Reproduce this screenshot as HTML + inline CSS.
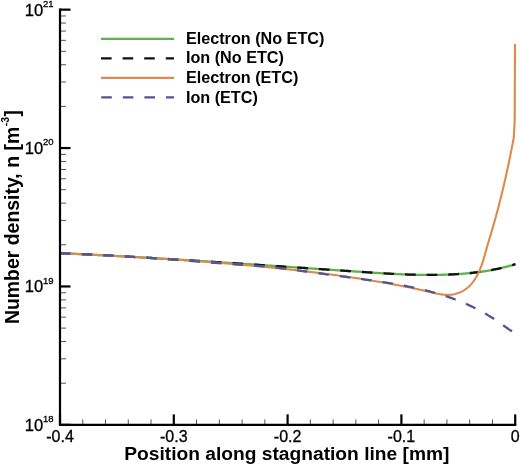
<!DOCTYPE html>
<html><head><meta charset="utf-8"><style>
html,body{margin:0;padding:0;background:#fff;}
body{width:520px;height:464px;overflow:hidden;}
svg{display:block;filter:blur(0.45px);}
text{font-family:"Liberation Sans",Arial,Helvetica,sans-serif;fill:#000;}
.mj{stroke:#000;stroke-width:2.2;}
.mn{stroke:#555;stroke-width:1;}
.b{font-weight:bold;}
</style></head><body>
<svg width="520" height="464" viewBox="0 0 520 464">
<rect width="520" height="464" fill="#fff"/>
<g fill="none" stroke-width="2.3" stroke-linejoin="round">
<path d="M60.11,253.15 L61.60,253.21 L63.10,253.28 L64.59,253.35 L66.09,253.42 L67.58,253.49 L69.08,253.57 L70.57,253.64 L72.07,253.71 L73.56,253.78 L75.06,253.85 L76.55,253.93 L78.05,254.00 L79.54,254.07 L81.04,254.15 L82.53,254.22 L84.03,254.30 L85.53,254.37 L87.02,254.45 L88.52,254.52 L90.01,254.60 L91.51,254.68 L93.01,254.75 L94.50,254.83 L96.00,254.91 L97.50,254.99 L98.99,255.07 L100.49,255.14 L101.99,255.22 L103.48,255.30 L104.98,255.38 L106.48,255.46 L107.98,255.54 L109.47,255.62 L110.97,255.70 L112.47,255.79 L113.97,255.87 L115.46,255.95 L116.96,256.03 L118.46,256.12 L119.96,256.20 L121.46,256.28 L122.95,256.37 L124.45,256.45 L125.95,256.53 L127.45,256.62 L128.95,256.70 L130.45,256.79 L131.94,256.87 L133.44,256.96 L134.94,257.04 L136.44,257.13 L137.94,257.22 L139.44,257.30 L140.94,257.39 L142.44,257.48 L143.93,257.57 L145.43,257.65 L146.93,257.74 L148.43,257.83 L149.93,257.92 L151.43,258.01 L152.93,258.10 L154.43,258.19 L155.93,258.28 L157.43,258.37 L158.93,258.46 L160.43,258.55 L161.93,258.64 L163.43,258.73 L164.93,258.82 L166.43,258.91 L167.93,259.01 L169.43,259.10 L170.93,259.19 L172.43,259.28 L173.93,259.37 L175.43,259.47 L176.93,259.56 L178.43,259.65 L179.93,259.75 L181.43,259.84 L182.93,259.94 L184.43,260.03 L185.93,260.12 L187.43,260.22 L188.93,260.31 L190.43,260.41 L191.93,260.50 L193.44,260.60 L194.94,260.69 L196.44,260.79 L197.94,260.89 L199.44,260.98 L200.94,261.08 L202.44,261.17 L203.94,261.27 L205.44,261.37 L206.94,261.47 L208.44,261.56 L209.95,261.66 L211.45,261.76 L212.95,261.86 L214.45,261.95 L215.95,262.05 L217.45,262.15 L218.95,262.25 L220.45,262.35 L221.95,262.44 L223.46,262.54 L224.96,262.64 L226.46,262.74 L227.96,262.84 L229.46,262.94 L230.96,263.04 L232.46,263.14 L233.96,263.24 L235.47,263.34 L236.97,263.44 L238.47,263.54 L239.97,263.64 L241.47,263.74 L242.97,263.84 L244.47,263.94 L245.98,264.04 L247.48,264.14 L248.98,264.24 L250.48,264.34 L251.98,264.44 L253.48,264.54 L254.98,264.64 L256.48,264.75 L257.99,264.85 L259.49,264.95 L260.99,265.05 L262.49,265.15 L263.99,265.25 L265.49,265.36 L266.99,265.46 L268.50,265.56 L270.00,265.66 L271.50,265.76 L273.00,265.87 L274.50,265.97 L276.00,266.07 L277.50,266.17 L279.00,266.27 L280.51,266.38 L282.01,266.48 L283.51,266.58 L285.01,266.68 L286.51,266.79 L288.01,266.89 L289.51,266.99 L291.01,267.09 L292.52,267.20 L294.02,267.30 L295.52,267.40 L297.02,267.51 L298.52,267.61 L300.02,267.71 L301.52,267.81 L303.02,267.92 L304.52,268.02 L306.02,268.12 L307.52,268.23 L309.03,268.33 L310.53,268.43 L312.03,268.53 L313.53,268.64 L315.03,268.74 L316.53,268.84 L318.03,268.95 L319.53,269.05 L321.03,269.15 L322.53,269.25 L324.03,269.36 L325.53,269.46 L327.03,269.56 L328.53,269.67 L330.03,269.77 L331.53,269.87 L333.03,269.97 L334.53,270.08 L336.03,270.18 L337.53,270.28 L339.03,270.38 L340.53,270.49 L342.03,270.59 L343.53,270.69 L345.03,270.79 L346.53,270.90 L348.03,271.00 L349.53,271.10 L351.03,271.20 L352.53,271.30 L354.03,271.41 L355.53,271.51 L357.03,271.61 L358.53,271.71 L360.03,271.81 L361.53,271.91 L363.02,272.01 L364.52,272.12 L366.02,272.22 L367.52,272.32 L369.02,272.42 L370.52,272.52 L372.02,272.61 L373.52,272.71 L375.01,272.81 L376.51,272.90 L378.01,273.00 L379.51,273.09 L381.01,273.19 L382.51,273.28 L384.00,273.37 L385.50,273.45 L387.00,273.54 L388.50,273.62 L390.00,273.71 L391.49,273.79 L392.99,273.87 L394.49,273.94 L395.99,274.02 L397.48,274.09 L398.98,274.16 L400.48,274.23 L401.97,274.30 L403.47,274.36 L404.97,274.42 L406.46,274.47 L407.96,274.53 L409.46,274.58 L410.95,274.63 L412.45,274.67 L413.95,274.72 L415.44,274.75 L416.94,274.79 L418.44,274.82 L419.93,274.85 L421.43,274.87 L422.92,274.89 L424.42,274.91 L425.91,274.92 L427.41,274.93 L428.91,274.94 L430.40,274.94 L431.90,274.93 L433.39,274.92 L434.89,274.91 L436.38,274.89 L437.88,274.87 L439.37,274.84 L440.86,274.81 L442.36,274.77 L443.85,274.73 L445.35,274.68 L446.84,274.63 L448.34,274.57 L449.83,274.51 L451.32,274.44 L452.82,274.37 L454.31,274.29 L455.80,274.20 L457.30,274.11 L458.79,274.01 L460.28,273.91 L461.78,273.80 L463.27,273.68 L464.76,273.56 L466.25,273.43 L467.75,273.30 L469.24,273.15 L470.73,273.00 L472.22,272.84 L473.71,272.68 L475.21,272.50 L476.70,272.32 L478.19,272.13 L479.68,271.93 L481.17,271.73 L482.66,271.51 L484.15,271.29 L485.64,271.05 L487.14,270.81 L488.63,270.56 L490.12,270.30 L491.61,270.03 L493.10,269.74 L494.59,269.45 L496.08,269.15 L497.57,268.84 L499.06,268.51 L500.55,268.18 L502.03,267.83 L503.52,267.48 L505.01,267.11 L506.50,266.73 L507.99,266.34 L509.48,265.93 L510.97,265.52 L512.46,265.09 L513.94,264.65 L515.43,264.19" stroke="#5fb04f"/>
<path d="M60.11,253.15 L61.60,253.21 L63.10,253.28 L64.59,253.35 L66.09,253.42 L67.58,253.49 L69.08,253.57 L70.57,253.64 L72.07,253.71 L73.56,253.78 L75.06,253.85 L76.55,253.93 L78.05,254.00 L79.54,254.07 L81.04,254.15 L82.53,254.22 L84.03,254.30 L85.53,254.37 L87.02,254.45 L88.52,254.52 L90.01,254.60 L91.51,254.68 L93.01,254.75 L94.50,254.83 L96.00,254.91 L97.50,254.99 L98.99,255.07 L100.49,255.14 L101.99,255.22 L103.48,255.30 L104.98,255.38 L106.48,255.46 L107.98,255.54 L109.47,255.62 L110.97,255.70 L112.47,255.79 L113.97,255.87 L115.46,255.95 L116.96,256.03 L118.46,256.12 L119.96,256.20 L121.46,256.28 L122.95,256.37 L124.45,256.45 L125.95,256.53 L127.45,256.62 L128.95,256.70 L130.45,256.79 L131.94,256.87 L133.44,256.96 L134.94,257.04 L136.44,257.13 L137.94,257.22 L139.44,257.30 L140.94,257.39 L142.44,257.48 L143.93,257.57 L145.43,257.65 L146.93,257.74 L148.43,257.83 L149.93,257.92 L151.43,258.01 L152.93,258.10 L154.43,258.19 L155.93,258.28 L157.43,258.37 L158.93,258.46 L160.43,258.55 L161.93,258.64 L163.43,258.73 L164.93,258.82 L166.43,258.91 L167.93,259.01 L169.43,259.10 L170.93,259.19 L172.43,259.28 L173.93,259.37 L175.43,259.47 L176.93,259.56 L178.43,259.65 L179.93,259.75 L181.43,259.84 L182.93,259.94 L184.43,260.03 L185.93,260.12 L187.43,260.22 L188.93,260.31 L190.43,260.41 L191.93,260.50 L193.44,260.60 L194.94,260.69 L196.44,260.79 L197.94,260.89 L199.44,260.98 L200.94,261.08 L202.44,261.17 L203.94,261.27 L205.44,261.37 L206.94,261.47 L208.44,261.56 L209.95,261.66 L211.45,261.76 L212.95,261.86 L214.45,261.95 L215.95,262.05 L217.45,262.15 L218.95,262.25 L220.45,262.35 L221.95,262.44 L223.46,262.54 L224.96,262.64 L226.46,262.74 L227.96,262.84 L229.46,262.94 L230.96,263.04 L232.46,263.14 L233.96,263.24 L235.47,263.34 L236.97,263.44 L238.47,263.54 L239.97,263.64 L241.47,263.74 L242.97,263.84 L244.47,263.94 L245.98,264.04 L247.48,264.14 L248.98,264.24 L250.48,264.34 L251.98,264.44 L253.48,264.54 L254.98,264.64 L256.48,264.75 L257.99,264.85 L259.49,264.95 L260.99,265.05 L262.49,265.15 L263.99,265.25 L265.49,265.36 L266.99,265.46 L268.50,265.56 L270.00,265.66 L271.50,265.76 L273.00,265.87 L274.50,265.97 L276.00,266.07 L277.50,266.17 L279.00,266.27 L280.51,266.38 L282.01,266.48 L283.51,266.58 L285.01,266.68 L286.51,266.79 L288.01,266.89 L289.51,266.99 L291.01,267.09 L292.52,267.20 L294.02,267.30 L295.52,267.40 L297.02,267.51 L298.52,267.61 L300.02,267.71 L301.52,267.81 L303.02,267.92 L304.52,268.02 L306.02,268.12 L307.52,268.23 L309.03,268.33 L310.53,268.43 L312.03,268.53 L313.53,268.64 L315.03,268.74 L316.53,268.84 L318.03,268.95 L319.53,269.05 L321.03,269.15 L322.53,269.25 L324.03,269.36 L325.53,269.46 L327.03,269.56 L328.53,269.67 L330.03,269.77 L331.53,269.87 L333.03,269.97 L334.53,270.08 L336.03,270.18 L337.53,270.28 L339.03,270.38 L340.53,270.49 L342.03,270.59 L343.53,270.69 L345.03,270.79 L346.53,270.90 L348.03,271.00 L349.53,271.10 L351.03,271.20 L352.53,271.30 L354.03,271.41 L355.53,271.51 L357.03,271.61 L358.53,271.71 L360.03,271.81 L361.53,271.91 L363.02,272.01 L364.52,272.12 L366.02,272.22 L367.52,272.32 L369.02,272.42 L370.52,272.52 L372.02,272.61 L373.52,272.71 L375.01,272.81 L376.51,272.90 L378.01,273.00 L379.51,273.09 L381.01,273.19 L382.51,273.28 L384.00,273.37 L385.50,273.45 L387.00,273.54 L388.50,273.62 L390.00,273.71 L391.49,273.79 L392.99,273.87 L394.49,273.94 L395.99,274.02 L397.48,274.09 L398.98,274.16 L400.48,274.23 L401.97,274.30 L403.47,274.36 L404.97,274.42 L406.46,274.47 L407.96,274.53 L409.46,274.58 L410.95,274.63 L412.45,274.67 L413.95,274.72 L415.44,274.75 L416.94,274.79 L418.44,274.82 L419.93,274.85 L421.43,274.87 L422.92,274.89 L424.42,274.91 L425.91,274.92 L427.41,274.93 L428.91,274.94 L430.40,274.94 L431.90,274.93 L433.39,274.92 L434.89,274.91 L436.38,274.89 L437.88,274.87 L439.37,274.84 L440.86,274.81 L442.36,274.77 L443.85,274.73 L445.35,274.68 L446.84,274.63 L448.34,274.57 L449.83,274.51 L451.32,274.44 L452.82,274.37 L454.31,274.29 L455.80,274.20 L457.30,274.11 L458.79,274.01 L460.28,273.91 L461.78,273.80 L463.27,273.68 L464.76,273.56 L466.25,273.43 L467.75,273.30 L469.24,273.15 L470.73,273.00 L472.22,272.84 L473.71,272.68 L475.21,272.50 L476.70,272.32 L478.19,272.13 L479.68,271.93 L481.17,271.73 L482.66,271.51 L484.15,271.29 L485.64,271.05 L487.14,270.81 L488.63,270.56 L490.12,270.30 L491.61,270.03 L493.10,269.74 L494.59,269.45 L496.08,269.15 L497.57,268.84 L499.06,268.51 L500.55,268.18 L502.03,267.83 L503.52,267.48 L505.01,267.11 L506.50,266.73 L507.99,266.34 L509.48,265.93 L510.97,265.52 L512.46,265.09 L513.94,264.65 L515.43,264.19" stroke="#111" stroke-dasharray="10.6 11"/>
<path d="M59.93,253.07 L61.44,253.15 L62.94,253.22 L64.45,253.30 L65.96,253.38 L67.47,253.46 L68.97,253.54 L70.48,253.62 L71.98,253.70 L73.49,253.77 L75.00,253.85 L76.50,253.93 L78.01,254.01 L79.51,254.09 L81.02,254.17 L82.52,254.25 L84.03,254.33 L85.53,254.41 L87.04,254.49 L88.54,254.57 L90.04,254.64 L91.55,254.72 L93.05,254.80 L94.55,254.88 L96.06,254.97 L97.56,255.05 L99.06,255.13 L100.56,255.21 L102.07,255.29 L103.57,255.37 L105.07,255.45 L106.57,255.53 L108.07,255.61 L109.58,255.70 L111.08,255.78 L112.58,255.86 L114.08,255.94 L115.58,256.03 L117.08,256.11 L118.58,256.20 L120.08,256.28 L121.58,256.36 L123.08,256.45 L124.58,256.53 L126.08,256.62 L127.58,256.70 L129.08,256.79 L130.58,256.88 L132.08,256.96 L133.58,257.05 L135.08,257.14 L136.58,257.22 L138.08,257.31 L139.57,257.40 L141.07,257.49 L142.57,257.58 L144.07,257.67 L145.57,257.76 L147.06,257.85 L148.56,257.94 L150.06,258.03 L151.56,258.12 L153.05,258.21 L154.55,258.31 L156.05,258.40 L157.55,258.49 L159.04,258.59 L160.54,258.68 L162.04,258.78 L163.53,258.87 L165.03,258.97 L166.53,259.06 L168.02,259.16 L169.52,259.26 L171.01,259.36 L172.51,259.46 L174.01,259.55 L175.50,259.65 L177.00,259.75 L178.49,259.86 L179.99,259.96 L181.48,260.06 L182.98,260.16 L184.47,260.27 L185.97,260.37 L187.47,260.47 L188.96,260.58 L190.45,260.68 L191.95,260.79 L193.44,260.90 L194.94,261.01 L196.43,261.11 L197.93,261.22 L199.42,261.33 L200.92,261.44 L202.41,261.55 L203.91,261.67 L205.40,261.78 L206.89,261.89 L208.39,262.01 L209.88,262.12 L211.38,262.24 L212.87,262.35 L214.36,262.47 L215.86,262.59 L217.35,262.71 L218.85,262.82 L220.34,262.94 L221.83,263.07 L223.33,263.19 L224.82,263.31 L226.31,263.43 L227.81,263.56 L229.30,263.68 L230.79,263.81 L232.29,263.93 L233.78,264.06 L235.28,264.19 L236.77,264.32 L238.26,264.45 L239.76,264.58 L241.25,264.71 L242.74,264.84 L244.23,264.98 L245.73,265.11 L247.22,265.25 L248.71,265.38 L250.21,265.52 L251.70,265.66 L253.19,265.80 L254.69,265.94 L256.18,266.08 L257.67,266.22 L259.17,266.36 L260.66,266.51 L262.15,266.65 L263.65,266.80 L265.14,266.95 L266.63,267.09 L268.13,267.24 L269.62,267.39 L271.11,267.54 L272.61,267.70 L274.10,267.85 L275.59,268.00 L277.09,268.16 L278.58,268.31 L280.07,268.47 L281.56,268.63 L283.06,268.79 L284.55,268.95 L286.05,269.11 L287.54,269.28 L289.03,269.44 L290.53,269.61 L292.02,269.77 L293.51,269.94 L295.01,270.11 L296.50,270.28 L297.99,270.45 L299.49,270.62 L300.98,270.79 L302.48,270.97 L303.97,271.14 L305.46,271.32 L306.96,271.50 L308.45,271.68 L309.95,271.86 L311.44,272.04 L312.93,272.22 L314.43,272.41 L315.92,272.59 L317.42,272.78 L318.91,272.97 L320.41,273.16 L321.90,273.35 L323.39,273.54 L324.89,273.74 L326.38,273.93 L327.88,274.13 L329.37,274.32 L330.87,274.52 L332.36,274.72 L333.86,274.92 L335.35,275.13 L336.85,275.33 L338.35,275.54 L339.84,275.74 L341.34,275.95 L342.83,276.16 L344.33,276.37 L345.82,276.59 L347.31,276.80 L348.81,277.02 L350.30,277.24 L351.80,277.45 L353.29,277.68 L354.78,277.90 L356.28,278.12 L357.77,278.35 L359.26,278.58 L360.76,278.81 L362.25,279.04 L363.74,279.27 L365.23,279.51 L366.72,279.75 L368.21,279.98 L369.70,280.23 L371.19,280.47 L372.68,280.71 L374.17,280.96 L375.66,281.21 L377.14,281.46 L378.63,281.71 L380.12,281.97 L381.60,282.23 L383.09,282.49 L384.57,282.75 L386.05,283.01 L387.54,283.28 L389.02,283.54 L390.50,283.81 L391.98,284.09 L393.46,284.36 L394.94,284.64 L396.42,284.92 L397.89,285.20 L399.37,285.48 L400.85,285.77 L402.32,286.06 L403.79,286.35 L405.27,286.64 L406.74,286.94 L408.21,287.24 L409.68,287.54 L411.14,287.84 L412.61,288.15 L414.08,288.46 L415.54,288.77 L417.01,289.08 L418.47,289.40 L419.93,289.72 L421.39,290.04 L422.85,290.37 L424.31,290.70 L425.77,291.03 L427.22,291.36 L428.67,291.70 L430.13,292.03 L431.58,292.37 L433.03,292.71 L434.48,293.04 L435.92,293.36 L437.37,293.66 L438.81,293.94 L440.26,294.19 L441.70,294.41 L443.14,294.60 L444.58,294.74 L446.01,294.83 L447.45,294.88 L448.88,294.87 L450.31,294.80 L451.74,294.66 L453.17,294.46 L454.60,294.18 L456.02,293.82 L457.45,293.37 L458.86,292.85 L460.26,292.25 L461.64,291.58 L463.00,290.84 L464.32,290.03 L465.61,289.16 L466.86,288.23 L468.06,287.24 L469.20,286.21 L470.29,285.13 L471.33,284.00 L472.31,282.83 L473.25,281.62 L474.14,280.38 L474.99,279.12 L475.79,277.82 L476.55,276.50 L477.28,275.17 L477.97,273.81 L478.63,272.45 L479.25,271.08 L479.84,269.70 L480.41,268.31 L480.95,266.92 L481.47,265.52 L481.97,264.12 L482.45,262.72 L482.91,261.30 L483.35,259.89 L483.78,258.47 L484.21,257.04 L484.62,255.62 L485.02,254.19 L485.43,252.75 L485.83,251.31 L486.22,249.87 L486.62,248.43 L487.03,246.98 L487.44,245.54 L487.86,244.09 L488.28,242.64 L488.71,241.18 L489.14,239.73 L489.58,238.28 L490.02,236.82 L490.46,235.37 L490.89,233.91 L491.33,232.46 L491.77,231.00 L492.20,229.55 L492.62,228.10 L493.05,226.64 L493.47,225.19 L493.88,223.74 L494.30,222.29 L494.71,220.83 L495.11,219.38 L495.52,217.93 L495.92,216.48 L496.32,215.03 L496.71,213.58 L497.10,212.13 L497.49,210.68 L497.87,209.23 L498.26,207.78 L498.64,206.33 L499.01,204.88 L499.39,203.43 L499.76,201.98 L500.12,200.53 L500.49,199.08 L500.85,197.63 L501.21,196.17 L501.57,194.72 L501.92,193.27 L502.28,191.82 L502.62,190.36 L502.97,188.91 L503.32,187.46 L503.66,186.00 L504.00,184.55 L504.34,183.09 L504.67,181.63 L505.00,180.18 L505.33,178.72 L505.66,177.26 L505.99,175.80 L506.31,174.34 L506.63,172.88 L506.95,171.42 L507.27,169.95 L507.59,168.49 L507.90,167.02 L508.21,165.56 L508.52,164.09 L508.83,162.62 L509.14,161.15 L509.44,159.68 L509.74,158.21 L510.05,156.74 L510.35,155.26 L510.64,153.78 L510.94,152.31 L511.23,150.83 L511.53,149.35 L511.82,147.87 L512.11,146.38 L512.40,144.90 L512.69,143.41 L512.97,141.92 L513.26,140.43 L513.54,138.94 L513.82,137.45 L514.7,120 L515,44" stroke="#dc8a4e" stroke-width="2.1"/>
<path d="M59.97,253.20 L61.47,253.26 L62.98,253.32 L64.48,253.38 L65.99,253.44 L67.49,253.49 L69.00,253.56 L70.50,253.62 L72.00,253.68 L73.51,253.74 L75.01,253.80 L76.52,253.87 L78.02,253.93 L79.52,254.00 L81.03,254.07 L82.53,254.13 L84.04,254.20 L85.54,254.27 L87.04,254.34 L88.54,254.41 L90.05,254.48 L91.55,254.55 L93.05,254.63 L94.56,254.70 L96.06,254.77 L97.56,254.85 L99.06,254.92 L100.57,255.00 L102.07,255.08 L103.57,255.16 L105.07,255.23 L106.57,255.31 L108.07,255.39 L109.58,255.48 L111.08,255.56 L112.58,255.64 L114.08,255.72 L115.58,255.81 L117.08,255.89 L118.58,255.98 L120.08,256.06 L121.58,256.15 L123.09,256.24 L124.59,256.33 L126.09,256.42 L127.59,256.51 L129.09,256.60 L130.59,256.69 L132.09,256.78 L133.59,256.88 L135.09,256.97 L136.59,257.07 L138.09,257.16 L139.59,257.26 L141.08,257.36 L142.58,257.45 L144.08,257.55 L145.58,257.65 L147.08,257.75 L148.58,257.85 L150.08,257.95 L151.58,258.06 L153.08,258.16 L154.58,258.26 L156.07,258.37 L157.57,258.47 L159.07,258.58 L160.57,258.69 L162.07,258.80 L163.57,258.90 L165.06,259.01 L166.56,259.12 L168.06,259.23 L169.56,259.35 L171.06,259.46 L172.55,259.57 L174.05,259.69 L175.55,259.80 L177.05,259.91 L178.54,260.03 L180.04,260.15 L181.54,260.26 L183.04,260.38 L184.53,260.50 L186.03,260.62 L187.53,260.73 L189.02,260.85 L190.52,260.97 L192.02,261.09 L193.51,261.21 L195.01,261.33 L196.51,261.44 L198.00,261.56 L199.50,261.68 L201.00,261.80 L202.49,261.92 L203.99,262.04 L205.49,262.15 L206.98,262.27 L208.48,262.39 L209.97,262.50 L211.47,262.62 L212.97,262.74 L214.46,262.85 L215.96,262.97 L217.45,263.08 L218.95,263.19 L220.44,263.31 L221.94,263.42 L223.44,263.53 L224.93,263.64 L226.43,263.75 L227.92,263.86 L229.42,263.96 L230.91,264.07 L232.41,264.18 L233.90,264.28 L235.40,264.38 L236.89,264.49 L238.39,264.59 L239.88,264.69 L241.38,264.78 L242.87,264.88 L244.37,264.98 L245.86,265.07 L247.36,265.17 L248.85,265.27 L250.35,265.36 L251.84,265.46 L253.34,265.56 L254.83,265.67 L256.33,265.77 L257.82,265.88 L259.32,265.99 L260.81,266.11 L262.31,266.23 L263.80,266.35 L265.29,266.48 L266.79,266.61 L268.28,266.75 L269.78,266.90 L271.27,267.05 L272.77,267.21 L274.26,267.37 L275.75,267.54 L277.25,267.71 L278.74,267.89 L280.24,268.07 L281.73,268.26 L283.22,268.45 L284.72,268.64 L286.21,268.83 L287.71,269.03 L289.20,269.23 L290.69,269.44 L292.19,269.64 L293.68,269.85 L295.18,270.05 L296.67,270.26 L298.16,270.46 L299.66,270.67 L301.15,270.88 L302.65,271.08 L304.14,271.29 L305.63,271.49 L307.13,271.70 L308.62,271.90 L310.11,272.10 L311.61,272.31 L313.10,272.51 L314.60,272.71 L316.09,272.91 L317.58,273.11 L319.08,273.31 L320.57,273.51 L322.07,273.71 L323.56,273.91 L325.05,274.11 L326.55,274.32 L328.04,274.52 L329.53,274.72 L331.03,274.91 L332.52,275.11 L334.01,275.31 L335.51,275.51 L337.00,275.71 L338.50,275.91 L339.99,276.12 L341.48,276.32 L342.98,276.52 L344.47,276.72 L345.96,276.92 L347.46,277.12 L348.95,277.32 L350.45,277.52 L351.94,277.73 L353.43,277.93 L354.93,278.13 L356.42,278.34 L357.92,278.54 L359.41,278.74 L360.90,278.95 L362.40,279.15 L363.89,279.36 L365.38,279.57 L366.88,279.78 L368.37,279.99 L369.86,280.20 L371.36,280.41 L372.85,280.62 L374.34,280.84 L375.83,281.06 L377.32,281.27 L378.81,281.50 L380.30,281.72 L381.79,281.95 L383.28,282.17 L384.77,282.40 L386.26,282.64 L387.74,282.88 L389.23,283.11 L390.71,283.36 L392.20,283.60 L393.68,283.85 L395.16,284.11 L396.64,284.36 L398.12,284.62 L399.60,284.89 L401.08,285.16 L402.55,285.43 L404.03,285.71 L405.50,285.99 L406.97,286.28 L408.44,286.57 L409.91,286.86 L411.38,287.16 L412.84,287.47 L414.31,287.78 L415.77,288.10 L417.23,288.42 L418.69,288.75 L420.15,289.08 L421.60,289.42 L423.05,289.77 L424.50,290.12 L425.95,290.48 L427.40,290.85 L428.84,291.22 L430.29,291.60 L431.73,291.99 L433.16,292.38 L434.60,292.78 L436.03,293.19 L437.46,293.60 L438.89,294.02 L440.32,294.45 L441.74,294.89 L443.16,295.34 L444.58,295.79 L446.00,296.25 L447.41,296.72 L448.82,297.20 L450.22,297.69 L451.63,298.19 L453.03,298.69 L454.43,299.21 L455.82,299.73 L457.21,300.26 L458.60,300.81 L459.99,301.36 L461.37,301.92 L462.75,302.49 L464.13,303.08 L465.50,303.67 L466.87,304.27 L468.23,304.88 L469.60,305.51 L470.95,306.14 L472.31,306.78 L473.66,307.44 L475.01,308.11 L476.35,308.78 L477.69,309.47 L479.03,310.17 L480.36,310.88 L481.69,311.60 L483.02,312.33 L484.34,313.08 L485.65,313.83 L486.96,314.60 L488.27,315.37 L489.58,316.16 L490.88,316.96 L492.17,317.77 L493.46,318.59 L494.75,319.43 L496.03,320.27 L497.31,321.13 L498.58,321.99 L499.85,322.87 L501.12,323.76 L502.38,324.67 L503.63,325.58 L504.88,326.50 L506.13,327.41 L507.37,328.30 L508.60,329.15 L509.83,329.93 L511.06,330.64 L512.28,331.25 L513.49,331.75 L514.70,332.12" stroke="#4e5697" stroke-dasharray="10.6 11"/>
</g>
<line x1="60" y1="383.19" x2="66" y2="383.19" class="mn"/>
<line x1="60" y1="358.82" x2="66" y2="358.82" class="mn"/>
<line x1="60" y1="341.52" x2="66" y2="341.52" class="mn"/>
<line x1="60" y1="328.11" x2="66" y2="328.11" class="mn"/>
<line x1="60" y1="317.15" x2="66" y2="317.15" class="mn"/>
<line x1="60" y1="307.89" x2="66" y2="307.89" class="mn"/>
<line x1="60" y1="299.86" x2="66" y2="299.86" class="mn"/>
<line x1="60" y1="292.78" x2="66" y2="292.78" class="mn"/>
<line x1="60" y1="244.79" x2="66" y2="244.79" class="mn"/>
<line x1="60" y1="220.42" x2="66" y2="220.42" class="mn"/>
<line x1="60" y1="203.12" x2="66" y2="203.12" class="mn"/>
<line x1="60" y1="189.71" x2="66" y2="189.71" class="mn"/>
<line x1="60" y1="178.75" x2="66" y2="178.75" class="mn"/>
<line x1="60" y1="169.49" x2="66" y2="169.49" class="mn"/>
<line x1="60" y1="161.46" x2="66" y2="161.46" class="mn"/>
<line x1="60" y1="154.38" x2="66" y2="154.38" class="mn"/>
<line x1="60" y1="106.39" x2="66" y2="106.39" class="mn"/>
<line x1="60" y1="82.02" x2="66" y2="82.02" class="mn"/>
<line x1="60" y1="64.72" x2="66" y2="64.72" class="mn"/>
<line x1="60" y1="51.31" x2="66" y2="51.31" class="mn"/>
<line x1="60" y1="40.35" x2="66" y2="40.35" class="mn"/>
<line x1="60" y1="31.09" x2="66" y2="31.09" class="mn"/>
<line x1="60" y1="23.06" x2="66" y2="23.06" class="mn"/>
<line x1="60" y1="15.98" x2="66" y2="15.98" class="mn"/>
<line x1="60" y1="424.85" x2="70.5" y2="424.85" class="mj"/>
<line x1="60" y1="286.45" x2="70.5" y2="286.45" class="mj"/>
<line x1="60" y1="148.05" x2="70.5" y2="148.05" class="mj"/>
<line x1="60" y1="9.65" x2="70.5" y2="9.65" class="mj"/>
<line x1="60.00" y1="424.85" x2="60.00" y2="414.35" class="mj"/>
<line x1="82.76" y1="424.85" x2="82.76" y2="419.35" class="mn"/>
<line x1="105.52" y1="424.85" x2="105.52" y2="419.35" class="mn"/>
<line x1="128.28" y1="424.85" x2="128.28" y2="419.35" class="mn"/>
<line x1="151.04" y1="424.85" x2="151.04" y2="419.35" class="mn"/>
<line x1="173.80" y1="424.85" x2="173.80" y2="414.35" class="mj"/>
<line x1="196.56" y1="424.85" x2="196.56" y2="419.35" class="mn"/>
<line x1="219.32" y1="424.85" x2="219.32" y2="419.35" class="mn"/>
<line x1="242.08" y1="424.85" x2="242.08" y2="419.35" class="mn"/>
<line x1="264.84" y1="424.85" x2="264.84" y2="419.35" class="mn"/>
<line x1="287.60" y1="424.85" x2="287.60" y2="414.35" class="mj"/>
<line x1="310.36" y1="424.85" x2="310.36" y2="419.35" class="mn"/>
<line x1="333.12" y1="424.85" x2="333.12" y2="419.35" class="mn"/>
<line x1="355.88" y1="424.85" x2="355.88" y2="419.35" class="mn"/>
<line x1="378.64" y1="424.85" x2="378.64" y2="419.35" class="mn"/>
<line x1="401.40" y1="424.85" x2="401.40" y2="414.35" class="mj"/>
<line x1="424.16" y1="424.85" x2="424.16" y2="419.35" class="mn"/>
<line x1="446.92" y1="424.85" x2="446.92" y2="419.35" class="mn"/>
<line x1="469.68" y1="424.85" x2="469.68" y2="419.35" class="mn"/>
<line x1="492.44" y1="424.85" x2="492.44" y2="419.35" class="mn"/>
<line x1="515.20" y1="424.85" x2="515.20" y2="414.35" class="mj"/>
<path d="M60,8.55 V425.95 M58.9,424.85 H516.3" stroke="#000" stroke-width="2.2" fill="none"/>
<g font-size="16.6" stroke="#000" stroke-width="0.3">
<text x="24.7" y="15.6">10<tspan font-size="9.5" dx="-0.2" dy="-8.9">21</tspan></text>
<text x="24.7" y="153.7">10<tspan font-size="9.5" dx="-0.2" dy="-8.9">20</tspan></text>
<text x="24.7" y="292.4">10<tspan font-size="9.5" dx="-0.2" dy="-8.9">19</tspan></text>
<text x="24.7" y="430.9">10<tspan font-size="9.5" dx="-0.2" dy="-8.9">18</tspan></text>
</g>
<g font-size="16" text-anchor="middle" stroke="#000" stroke-width="0.3">
<text x="60" y="442.3">-0.4</text>
<text x="173.8" y="442.3">-0.3</text>
<text x="287.6" y="442.3">-0.2</text>
<text x="401.4" y="442.3">-0.1</text>
<text x="515.2" y="442.3">0</text>
</g>
<text class="b" x="124.3" y="459.5" font-size="19.2">Position along stagnation line [mm]</text>
<text class="b" font-size="19.45" transform="translate(18.9,324.1) rotate(-90)">Number density, n [m<tspan font-size="10.5" dx="0.6" dy="-9.9">-3</tspan><tspan dx="0.5" dy="9.9">]</tspan></text>
<g stroke-width="2.3">
<line x1="101" y1="38.8" x2="174" y2="38.8" stroke="#5fb04f"/>
<line x1="101" y1="58.3" x2="174" y2="58.3" stroke="#111" stroke-dasharray="10.6 11"/>
<line x1="101" y1="77.8" x2="174" y2="77.8" stroke="#dc8a4e"/>
<line x1="101.2" y1="97.3" x2="174" y2="97.3" stroke="#4e5697" stroke-dasharray="10.6 11"/>
</g>
<g class="b" font-size="16.2" font-weight="bold">
<text x="185.9" y="44">Electron (No ETC)</text>
<text x="185.9" y="63.2">Ion (No ETC)</text>
<text x="185.9" y="82.8">Electron (ETC)</text>
<text x="185.9" y="102.6">Ion (ETC)</text>
</g>
</svg>
</body></html>
